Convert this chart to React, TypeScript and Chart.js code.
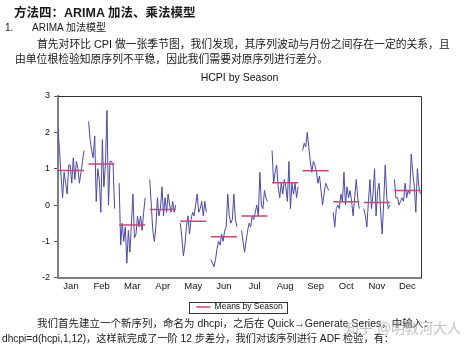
import React, { useEffect, useRef } from "react";
import { Chart, registerables } from "chart.js";

Chart.register(...registerables);

// ---- data ----
const months = ["Jan", "Feb", "Mar", "Apr", "May", "Jun", "Jul", "Aug", "Sep", "Oct", "Nov", "Dec"];
const janValues = [2.1, 1.5, 0.8, 0.2, 0.9, 0.6, 0.3, 1.1, 1.1, 0.6, 1.3, 0.7, 1.2, 1.0, 0.6, 0.9, 1.2, 1.5];
const febValues = [2.3, 1.8, 1.5, 1.3, 1.9, 0.1, 1.0, 0.7, -0.2, 1.8, 0.5, 1.1, 2.6, 0.0, 1.2, 1.2, 1.1, -0.1];
const marValues = [0.6, -1.1, -0.5, -1.0, -0.6, -1.6, -0.7, -1.3, -0.5, 0.3, -0.9, -0.8, -0.3, -0.6, -0.3, -0.7, -0.2, 0.2];
const aprValues = [0.7, 0.0, -0.7, -1.0, -0.6, 0.2, -0.3, -0.1, 0.5, -0.3, 0.2, -0.2, 0.3, 0.0, -0.2, 0.1, -0.2, 0.0];
const mayValues = [-0.5, -0.9, -1.4, -1.1, -0.6, -0.3, -0.8, -0.4, -0.2, -0.3, 0.0, 0.3, -0.2, -0.1, 0.1, -0.3, 0.1, -0.2];
const junValues = [-1.5, -1.6, -1.7, -1.5, -1.2, -1.0, -1.1, -0.8, -1.0, -0.7, -0.6, 0.3, -0.3, -0.5, -0.4, 0.3, -0.4, -0.6];
const julValues = [-0.7, -1.0, -1.3, -1.0, -0.7, -0.5, -0.6, -0.3, -0.4, -0.2, 0.0, -0.3, 0.9, 0.0, -0.1, 0.4, 0.2, 0.1];
const augValues = [1.5, 0.6, 0.9, 1.1, 0.5, 0.2, 0.6, 0.3, 0.7, 0.5, 0.1, 1.2, -0.1, 0.6, 0.3, 0.6, 0.2, 0.5];
const sepValues = [1.5, 1.7, 1.6, 2.0, 1.6, 1.2, 0.9, 1.2, 1.1, 0.9, 0.6, 0.8, 0.4, 0.0, 0.3, 0.6, 0.5, 0.4];
const octValues = [-0.2, -0.6, -0.1, 0.0, -0.1, 0.3, 0.1, 0.9, 0.0, 0.5, 0.2, 0.4, 0.1, -0.3, 0.2, 0.7, 0.2, -0.1];
const novValues = [-0.1, -0.3, -0.6, 0.1, 0.7, -0.1, 0.3, 1.0, -0.3, 0.4, 0.6, -0.2, -0.8, 0.1, 1.1, 0.2, -0.1, 0.0];
const decValues = [0.7, 0.2, 0.2, 0.0, 0.1, 0.2, 0.1, 0.6, 0.2, 0.4, 0.3, 1.4, 0.9, 0.5, -0.2, 1.0, 0.5, 0.3];
const seasonalMeans = [0.95, 1.13, -0.55, -0.12, -0.45, -0.87, -0.3, 0.61, 0.94, 0.09, 0.07, 0.4];
const yTickValues = [-2, -1, 0, 1, 2, 3];

const monthlySeries = [janValues, febValues, marValues, aprValues, mayValues, junValues,
  julValues, augValues, sepValues, octValues, novValues, decValues];

// layout of the seasonal panels on the x scale
const SLOT = 1.011;
const SPAN = 0.86;
const FONT = '"Liberation Sans", Arial, sans-serif';
const TEXT_FONT = '"Liberation Sans", "Noto Sans CJK SC", sans-serif';

function buildData() {
  const pts: any[] = [];
  const meanPts: any[] = [];
  monthlySeries.forEach((vals, k) => {
    const start = k * SLOT;
    const step = SPAN / (vals.length - 1);
    vals.forEach((v, i) => pts.push({ x: start + i * step, y: v }));
    pts.push({ x: start + SPAN + 0.05, y: null });
    meanPts.push({ x: start, y: seasonalMeans[k] });
    meanPts.push({ x: start + SPAN, y: seasonalMeans[k] });
    meanPts.push({ x: start + SPAN + 0.05, y: null });
  });
  return { pts, meanPts };
}

const framePlugin = {
  id: "frame",
  afterDatasetsDraw(chart: any) {
    const { ctx, chartArea } = chart;
    const { left, top, right, bottom } = chartArea;
    ctx.save();
    ctx.strokeStyle = "#333";
    ctx.lineWidth = 1;
    ctx.beginPath();
    ctx.moveTo(left, Math.round(top) + 0.5);
    ctx.lineTo(Math.round(right) + 0.5, Math.round(top) + 0.5);
    ctx.lineTo(Math.round(right) + 0.5, bottom);
    ctx.stroke();
    ctx.restore();
  },
  afterDraw(chart: any) {
    const lg = chart.legend;
    if (!lg || !lg.legendHitBoxes || !lg.legendHitBoxes.length) return;
    const hb = lg.legendHitBoxes[0];
    const ctx = chart.ctx;
    const cy = hb.top + hb.height / 2;
    ctx.save();
    ctx.strokeStyle = "#333";
    ctx.lineWidth = 1;
    ctx.strokeRect(Math.round(hb.left - 7) + 0.5, Math.round(cy - 5.5) + 0.5, Math.round(hb.width + 12), 11);
    ctx.restore();
  },
};

function SeasonChart() {
  const ref = useRef<HTMLCanvasElement | null>(null);
  useEffect(() => {
    if (!ref.current) return;
    const { pts, meanPts } = buildData();
    const chart = new Chart(ref.current, {
      type: "line",
      data: {
        datasets: [
          {
            label: "HCPI",
            data: pts,
            borderColor: "#4848b0",
            borderWidth: 1,
            pointRadius: 0,
            spanGaps: false,
            tension: 0,
            order: 2,
          },
          {
            label: "Means by Season",
            data: meanPts,
            borderColor: "#c8467a",
            borderWidth: 1.5,
            pointRadius: 0,
            spanGaps: false,
            order: 1,
          },
        ],
      },
      options: {
        animation: false,
        responsive: false,
        maintainAspectRatio: false,
        devicePixelRatio: 1,
        layout: { padding: { top: 71.7, left: 20, right: 15, bottom: 29.75 } },
        plugins: {
          title: {
            display: true,
            text: "HCPI by Season",
            color: "#111",
            font: { family: FONT, size: 10.5, weight: "normal" },
            padding: { top: 0, bottom: 11.7 },
          },
          legend: {
            display: true,
            position: "bottom",
            labels: {
              filter: (item: any) => item.text === "Means by Season",
              usePointStyle: true,
              pointStyle: "line",
              pointStyleWidth: 14,
              boxHeight: 8.5,
              color: "#111",
              font: { family: FONT, size: 8.5 },
              padding: 10.75,
            },
          },
          tooltip: { enabled: false },
        },
        scales: {
          x: {
            type: "linear",
            min: 0,
            max: 12,
            afterFit: (s: any) => { s.height = 14.3; },
            afterBuildTicks: (s: any) => {
              s.ticks = months.map((_, k) => ({ value: k * SLOT + SPAN / 2 }));
            },
            ticks: {
              autoSkip: false,
              maxRotation: 0,
              padding: 3,
              color: "#111",
              font: { family: FONT, size: 9.5 },
              callback: (_v: any, i: number) => months[i],
            },
            grid: { display: true, drawOnChartArea: false, drawTicks: false },
            border: { display: true, color: "#808080", width: 2 },
          },
          y: {
            type: "linear",
            position: "left",
            min: -2,
            max: 3,
            afterFit: (s: any) => { s.width = 38; },
            afterBuildTicks: (s: any) => {
              s.ticks = yTickValues.map((v) => ({ value: v }));
            },
            ticks: {
              padding: 4,
              color: "#111",
              font: { family: FONT, size: 9 },
            },
            grid: { display: true, drawOnChartArea: false, drawTicks: true, tickLength: 4, color: "#555" },
            border: { display: true, color: "#808080", width: 2 },
          },
          yRight: {
            type: "linear",
            position: "right",
            min: -2,
            max: 3,
            afterFit: (s: any) => { s.width = 38; },
            ticks: { display: false },
            grid: { display: false },
            border: { display: false },
          },
        },
      },
      plugins: [framePlugin],
    } as any);
    return () => chart.destroy();
  }, []);
  return (
    <canvas
      ref={ref}
      width={474}
      height={351}
      style={{ position: "absolute", left: 0, top: 0, width: 474, height: 351 }}
    />
  );
}

function Line(props: { x: number; cy: number; size: number; bold?: boolean; color?: string; children: any }) {
  const lh = props.size * 1.25;
  return (
    <div
      style={{
        position: "absolute",
        left: props.x,
        top: props.cy - lh / 2,
        fontSize: props.size,
        lineHeight: lh + "px",
        fontWeight: props.bold ? 700 : 400,
        color: props.color || "#1a1a1a",
        whiteSpace: "nowrap",
        fontFamily: TEXT_FONT,
        zIndex: 2,
      }}
    >
      {props.children}
    </div>
  );
}

export default function App() {
  return (
    <div
      style={{
        position: "fixed",
        left: 0,
        top: 0,
        width: 474,
        height: 351,
        background: "#fff",
        overflow: "hidden",
      }}
    >
      <SeasonChart />
      <Line x={14} cy={13.5} size={12.5} bold>方法四：ARIMA 加法、乘法模型</Line>
      <Line x={5} cy={28.5} size={10}>1.</Line>
      <Line x={32} cy={28.5} size={10}>ARIMA 加法模型</Line>
      <Line x={37} cy={44.5} size={10.8}>首先对环比 CPI 做一张季节图，我们发现，其序列波动与月份之间存在一定的关系，且</Line>
      <Line x={15} cy={59.5} size={10.8}>由单位根检验知原序列不平稳，因此我们需要对原序列进行差分。</Line>
      <Line x={37} cy={324} size={10.5}>我们首先建立一个新序列，命名为 dhcpi，之后在 Quick→Generate Series，中输入：</Line>
      <Line x={2} cy={339.5} size={10.2}>dhcpi=d(hcpi,1,12)，这样就完成了一阶 12 步差分，我们对该序列进行 ADF 检验，有：</Line>
      <Line x={345} cy={329} size={14} color="rgba(170,170,170,0.7)">知乎 @明教河大人</Line>
    </div>
  );
}
